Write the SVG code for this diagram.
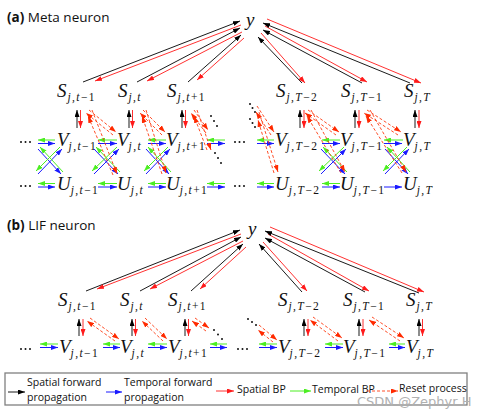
<svg xmlns="http://www.w3.org/2000/svg" width="477" height="414" viewBox="0 0 477 414">
<style>
.t{font-family:"Open Sans","Liberation Sans",sans-serif;font-size:13.5px;fill:#111}
.tb{font-weight:bold}
.m{font-family:"Liberation Serif",serif;font-style:italic;font-size:19px;fill:#111}
.s{font-size:11.5px;letter-spacing:1.4px}
.n{font-style:normal}
.k{stroke:#000;stroke-width:0.9;fill:none;marker-end:url(#hk)}
.r{stroke:#ff1a1a;stroke-width:0.9;fill:none;marker-end:url(#hr)}
.b{stroke:#1a1aff;stroke-width:1;fill:none;marker-end:url(#hb)}
.g{stroke:#4cee22;stroke-width:1;fill:none;marker-end:url(#hg)}
.d{stroke:#ff3a10;stroke-width:0.9;stroke-dasharray:3 2;fill:none;marker-end:url(#hd)}
.dot{fill:#111}
.lg{font-family:"Open Sans","Liberation Sans",sans-serif;font-size:10.5px;fill:#111}
.wm{font-family:"DejaVu Sans",sans-serif;font-size:13px;fill:#b0b0b0}
</style>
<defs>
<marker id="hk" viewBox="0 0 7 5" refX="7" refY="2.5" markerWidth="7" markerHeight="5" markerUnits="userSpaceOnUse" orient="auto"><path d="M0,0L7,2.5L0,5z" fill="#000"/></marker>
<marker id="hr" viewBox="0 0 7 5" refX="7" refY="2.5" markerWidth="7" markerHeight="5" markerUnits="userSpaceOnUse" orient="auto"><path d="M0,0L7,2.5L0,5z" fill="#ff1a1a"/></marker>
<marker id="hb" viewBox="0 0 7 5" refX="7" refY="2.5" markerWidth="7" markerHeight="5" markerUnits="userSpaceOnUse" orient="auto"><path d="M0,0L7,2.5L0,5z" fill="#1a1aff"/></marker>
<marker id="hg" viewBox="0 0 7 5" refX="7" refY="2.5" markerWidth="7" markerHeight="5" markerUnits="userSpaceOnUse" orient="auto"><path d="M0,0L7,2.5L0,5z" fill="#4cee22"/></marker>
<marker id="hd" viewBox="0 0 7 5" refX="7" refY="2.5" markerWidth="7" markerHeight="5" markerUnits="userSpaceOnUse" orient="auto"><path d="M0,0L7,2.5L0,5z" fill="#ff2a00"/></marker>
</defs>
<rect width="477" height="414" fill="#fff"/>

<text class="t" x="7" y="22"><tspan class="tb">(a)</tspan> Meta neuron</text>
<text class="t" x="7" y="230"><tspan class="tb">(b)</tspan> LIF neuron</text>

<!-- Nodes panel a -->
<g id="a-y"><text class="m" x="246" y="26">y</text></g>
<g id="a-S1"><text class="m" x="57" y="97">S<tspan class="s" dx="1" dy="4">j,t</tspan><tspan class="s n">−1</tspan></text></g>
<g id="a-S2"><text class="m" x="118" y="97">S<tspan class="s" dx="1" dy="4">j,t</tspan></text></g>
<g id="a-S3"><text class="m" x="167" y="97">S<tspan class="s" dx="1" dy="4">j,t</tspan><tspan class="s n">+1</tspan></text></g>
<g id="a-S4"><text class="m" x="276" y="97">S<tspan class="s" dx="1" dy="4">j,T</tspan><tspan class="s n">−2</tspan></text></g>
<g id="a-S5"><text class="m" x="341" y="97">S<tspan class="s" dx="1" dy="4">j,T</tspan><tspan class="s n">−1</tspan></text></g>
<g id="a-S6"><text class="m" x="404" y="97">S<tspan class="s" dx="1" dy="4">j,T</tspan></text></g>
<g id="a-V1"><text class="m" x="57" y="146">V<tspan class="s" dx="0" dy="4">j,t</tspan><tspan class="s n">−1</tspan></text></g>
<g id="a-V2"><text class="m" x="117" y="146">V<tspan class="s" dy="4">j,t</tspan></text></g>
<g id="a-V3"><text class="m" x="166" y="146">V<tspan class="s" dy="4">j,t</tspan><tspan class="s n">+1</tspan></text></g>
<g id="a-V4"><text class="m" x="275" y="146">V<tspan class="s" dy="4">j,T</tspan><tspan class="s n">−2</tspan></text></g>
<g id="a-V5"><text class="m" x="340" y="146">V<tspan class="s" dy="4">j,T</tspan><tspan class="s n">−1</tspan></text></g>
<g id="a-V6"><text class="m" x="403" y="146">V<tspan class="s" dy="4">j,T</tspan></text></g>
<g id="a-U1"><text class="m" x="57" y="190">U<tspan class="s" dy="4">j,t</tspan><tspan class="s n">−1</tspan></text></g>
<g id="a-U2"><text class="m" x="117" y="190">U<tspan class="s" dy="4">j,t</tspan></text></g>
<g id="a-U3"><text class="m" x="166" y="190">U<tspan class="s" dy="4">j,t</tspan><tspan class="s n">+1</tspan></text></g>
<g id="a-U4"><text class="m" x="275" y="190">U<tspan class="s" dy="4">j,T</tspan><tspan class="s n">−2</tspan></text></g>
<g id="a-U5"><text class="m" x="340" y="190">U<tspan class="s" dy="4">j,T</tspan><tspan class="s n">−1</tspan></text></g>
<g id="a-U6"><text class="m" x="403" y="190">U<tspan class="s" dy="4">j,T</tspan></text></g>

<!-- Nodes panel b -->
<g id="b-y"><text class="m" x="248" y="235">y</text></g>
<g id="b-S1"><text class="m" x="58" y="306">S<tspan class="s" dx="1" dy="4">j,t</tspan><tspan class="s n">−1</tspan></text></g>
<g id="b-S2"><text class="m" x="120" y="306">S<tspan class="s" dx="1" dy="4">j,t</tspan></text></g>
<g id="b-S3"><text class="m" x="168" y="306">S<tspan class="s" dx="1" dy="4">j,t</tspan><tspan class="s n">+1</tspan></text></g>
<g id="b-S4"><text class="m" x="278" y="306">S<tspan class="s" dx="1" dy="4">j,T</tspan><tspan class="s n">−2</tspan></text></g>
<g id="b-S5"><text class="m" x="343" y="306">S<tspan class="s" dx="1" dy="4">j,T</tspan><tspan class="s n">−1</tspan></text></g>
<g id="b-S6"><text class="m" x="406" y="306">S<tspan class="s" dx="1" dy="4">j,T</tspan></text></g>
<g id="b-V1"><text class="m" x="59" y="353">V<tspan class="s" dy="4">j,t</tspan><tspan class="s n">−1</tspan></text></g>
<g id="b-V2"><text class="m" x="120" y="353">V<tspan class="s" dy="4">j,t</tspan></text></g>
<g id="b-V3"><text class="m" x="168" y="353">V<tspan class="s" dy="4">j,t</tspan><tspan class="s n">+1</tspan></text></g>
<g id="b-V4"><text class="m" x="278" y="353">V<tspan class="s" dy="4">j,T</tspan><tspan class="s n">−2</tspan></text></g>
<g id="b-V5"><text class="m" x="343" y="353">V<tspan class="s" dy="4">j,T</tspan><tspan class="s n">−1</tspan></text></g>
<g id="b-V6"><text class="m" x="406" y="353">V<tspan class="s" dy="4">j,T</tspan></text></g>

<!-- Ellipsis dots -->
<g id="dots">
<circle class="dot" cx="21" cy="142" r="1"/><circle class="dot" cx="25.5" cy="142" r="1"/><circle class="dot" cx="30" cy="142" r="1"/>
<circle class="dot" cx="21" cy="186" r="1"/><circle class="dot" cx="25.5" cy="186" r="1"/><circle class="dot" cx="30" cy="186" r="1"/>
<circle class="dot" cx="235" cy="142" r="1"/><circle class="dot" cx="239.5" cy="142" r="1"/><circle class="dot" cx="244" cy="142" r="1"/>
<circle class="dot" cx="235" cy="186" r="1"/><circle class="dot" cx="239.5" cy="186" r="1"/><circle class="dot" cx="244" cy="186" r="1"/>
<circle class="dot" cx="211" cy="116" r="1"/><circle class="dot" cx="214" cy="121" r="1"/><circle class="dot" cx="217" cy="126" r="1"/>
<circle class="dot" cx="215" cy="153" r="1"/><circle class="dot" cx="218" cy="158" r="1"/><circle class="dot" cx="221" cy="163" r="1"/>
<circle class="dot" cx="250" cy="104" r="1"/><circle class="dot" cx="252.5" cy="108" r="1"/><circle class="dot" cx="255" cy="112" r="1"/>
<circle class="dot" cx="250" cy="119" r="1"/><circle class="dot" cx="252.5" cy="123" r="1"/><circle class="dot" cx="255" cy="127" r="1"/>
<circle class="dot" cx="21" cy="349" r="1"/><circle class="dot" cx="25.5" cy="349" r="1"/><circle class="dot" cx="30" cy="349" r="1"/>
<circle class="dot" cx="238" cy="349" r="1"/><circle class="dot" cx="242.5" cy="349" r="1"/><circle class="dot" cx="247" cy="349" r="1"/>
<circle class="dot" cx="214" cy="330" r="1"/><circle class="dot" cx="218" cy="334.5" r="1"/><circle class="dot" cx="222" cy="339" r="1"/>
<circle class="dot" cx="248" cy="319" r="1"/><circle class="dot" cx="252" cy="322" r="1"/><circle class="dot" cx="256" cy="325" r="1"/>
</g>

<g id="connectors">
<!-- panel a: S <-> y -->
<path class="k" d="M83,82L240,21"/><path class="r" d="M241,25L95,81"/>
<path class="k" d="M137,82L240,28"/><path class="r" d="M242,32L147,81"/>
<path class="k" d="M188,82L241,35"/><path class="r" d="M244,38L197,80"/>
<path class="k" d="M302,83L258,37"/><path class="r" d="M261,33L305,83"/>
<path class="k" d="M362,83L263,30"/><path class="r" d="M265,26L367,82"/>
<path class="k" d="M410,83L263,23"/><path class="r" d="M267,19L421,83"/>
<!-- panel a: S <-> V vertical -->
<path class="k" d="M77,128V110"/><path class="r" d="M80.5,110V128"/>
<path class="k" d="M129,128V110"/><path class="r" d="M132.5,110V128"/>
<path class="k" d="M182,128V110"/><path class="r" d="M185.5,110V128"/>
<path class="k" d="M300,128V110"/><path class="r" d="M304,110V128"/>
<path class="k" d="M355,128V110"/><path class="r" d="M359,110V128"/>
<path class="k" d="M415,128V110"/><path class="r" d="M419,110V128"/>
<!-- panel a: temporal V row -->
<path class="g" d="M55,140H38"/><path class="b" d="M38,143.5H55"/>
<path class="g" d="M117,140H98"/><path class="b" d="M98,143.5H117"/>
<path class="g" d="M166,140H148"/><path class="b" d="M148,143.5H166"/>
<path class="g" d="M225,140H207"/><path class="b" d="M207,143.5H225"/>
<path class="g" d="M274,140H257"/><path class="b" d="M257,143.5H274"/>
<path class="g" d="M340,140H322"/><path class="b" d="M322,143.5H340"/>
<path class="g" d="M403,140H384"/><path class="b" d="M384,143.5H402"/>
<!-- panel a: temporal U row -->
<path class="g" d="M55,183.5H38"/><path class="b" d="M38,187H55"/>
<path class="g" d="M117,183.5H98"/><path class="b" d="M98,187H117"/>
<path class="g" d="M166,183.5H148"/><path class="b" d="M148,187H166"/>
<path class="g" d="M225,183.5H207"/><path class="b" d="M207,187H225"/>
<path class="g" d="M274,183.5H257"/><path class="b" d="M257,187H274"/>
<path class="g" d="M340,183.5H322"/><path class="b" d="M322,187H340"/>
<path class="b" d="M384,187H402"/>
<!-- panel a: cross V/U arrows -->
<path class="b" d="M38,174L62,149"/><path class="b" d="M38,149L61,174"/>
<path class="g" d="M60,147L36,171"/><path class="g" d="M63,172L40,147"/>
<path class="b" d="M94,174L119,149"/><path class="b" d="M94,149L118,174"/>
<path class="g" d="M117,147L92,171"/><path class="g" d="M120,172L96,147"/>
<path class="b" d="M146,174L170,149"/><path class="b" d="M146,149L169,174"/>
<path class="g" d="M168,147L144,171"/><path class="g" d="M171,172L148,147"/>
<path class="b" d="M321,174L346,149"/><path class="b" d="M321,149L345,174"/>
<path class="g" d="M344,147L319,171"/><path class="g" d="M347,172L323,147"/>
<path class="b" d="M385,174L409,149"/><path class="b" d="M385,149L408,174"/>
<path class="g" d="M407,147L383,171"/><path class="g" d="M410,172L387,147"/>
<!-- panel a: dashed reset/BP -->
<path class="d" d="M89,110L116,132"/><path class="d" d="M113,135L86,113"/>
<path class="d" d="M92,110L117,174"/><path class="d" d="M113,175L88,116"/>
<path class="d" d="M143,110L165,132"/><path class="d" d="M162,135L140,113"/>
<path class="d" d="M146,110L166,173"/><path class="d" d="M162,174L142,116"/>
<path class="d" d="M194,110L208,130"/><path class="d" d="M206,133L191,113"/>
<path class="d" d="M197,110L211,150"/><path class="d" d="M207,150L194,116"/>
<path class="d" d="M257,106L274,132"/><path class="d" d="M271,135L256,112"/>
<path class="d" d="M259,112L278,172"/><path class="d" d="M274,173L258,120"/>
<path class="d" d="M308,110L339,132"/><path class="d" d="M336,135L305,113"/>
<path class="d" d="M311,110L345,172"/><path class="d" d="M341,173L307,116"/>
<path class="d" d="M367,110L401,132"/><path class="d" d="M398,135L364,113"/>
<path class="d" d="M370,110L406,172"/><path class="d" d="M402,173L366,116"/>

<!-- panel b: S <-> y -->
<path class="k" d="M86,291L240,230"/><path class="r" d="M241,234L97,289"/>
<path class="k" d="M140,291L241,237"/><path class="r" d="M243,241L150,289"/>
<path class="k" d="M191,291L243,244"/><path class="r" d="M246,247L200,289"/>
<path class="k" d="M302,292L259,244"/><path class="r" d="M263,242L307,291"/>
<path class="k" d="M365,292L265,238"/><path class="r" d="M268,234L369,291"/>
<path class="k" d="M419,293L265,231"/><path class="r" d="M270,227L424,292"/>
<!-- panel b: S <-> V vertical -->
<path class="k" d="M79,336V319"/><path class="r" d="M83,319V336"/>
<path class="k" d="M132,336V319"/><path class="r" d="M135.5,319V336"/>
<path class="k" d="M185,336V319"/><path class="r" d="M188.5,319V336"/>
<path class="k" d="M304,336V319"/><path class="r" d="M308,319V336"/>
<path class="k" d="M359,336V319"/><path class="r" d="M363,319V336"/>
<path class="k" d="M419,336V319"/><path class="r" d="M422.5,319V336"/>
<!-- panel b: temporal V row -->
<path class="g" d="M58,344H40"/><path class="b" d="M40,347.5H58"/>
<path class="g" d="M120,344H103"/><path class="b" d="M103,347.5H120"/>
<path class="g" d="M167,344H148"/><path class="b" d="M148,347.5H167"/>
<path class="g" d="M227,344H210"/><path class="b" d="M210,347.5H227"/>
<path class="g" d="M277,344H259"/><path class="b" d="M259,347.5H277"/>
<path class="g" d="M343,344H325"/><path class="b" d="M325,347.5H343"/>
<path class="g" d="M405,344H389"/><path class="b" d="M389,347.5H405"/>
<!-- panel b: dashed -->
<path class="d" d="M90,318L119,339"/><path class="d" d="M115,341L87,321"/>
<path class="d" d="M145,318L167,339"/><path class="d" d="M163,341L142,321"/>
<path class="d" d="M195,318L209,328"/><path class="d" d="M206,331L192,321"/>
<path class="d" d="M259,325L277,340"/><path class="d" d="M273,342L258,330"/>
<path class="d" d="M313,317L342,338"/><path class="d" d="M338,341L310,320"/>
<path class="d" d="M372,317L404,338"/><path class="d" d="M400,341L369,320"/>
</g>

<g id="legend">
<rect x="5" y="373" width="462" height="32" fill="none" stroke="#808080" stroke-width="1.3"/>
<path class="k" d="M8,392H25"/>
<text class="lg" x="27" y="386">Spatial forward</text>
<text class="lg" x="27" y="401">propagation</text>
<path class="b" d="M106,392H122"/>
<text class="lg" x="124" y="386">Temporal forward</text>
<text class="lg" x="124" y="401">propagation</text>
<path class="r" d="M216,391H234"/>
<text class="lg" x="237" y="393">Spatial BP</text>
<path class="g" d="M290,391H311"/>
<text class="lg" x="312" y="393">Temporal BP</text>
<path class="d" d="M367,391H398"/>
<text class="lg" x="399" y="392">Reset process</text>
</g>
<text class="wm" x="357" y="406">CSDN @Zephyr H</text>
</svg>
